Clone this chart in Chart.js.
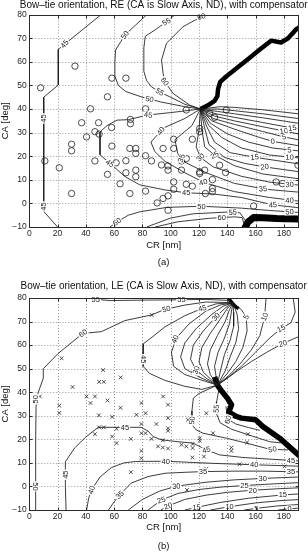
<!DOCTYPE html>
<html><head><meta charset="utf-8">
<script src="https://cdn.jsdelivr.net/npm/chart.js@4.4.1/dist/chart.umd.min.js"></script>
<style>
html,body{margin:0;padding:0;background:#fff;overflow:hidden;width:308px;height:552px}
.box{position:absolute;left:0;width:308px;height:276px}
</style></head><body>
<div class="box" style="top:0"><canvas id="ca"></canvas></div>
<div class="box" style="top:276px"><canvas id="cb"></canvas></div>
<script>
// ---------- shared axes ----------
const xTicks = [0,20,40,60,80,100,120,140,160,180];
const yTicks = [-10,0,10,20,30,40,50,60,70,80];
const titleA = 'Bow–tie orientation, RE (CA is Slow Axis, ND), with compensator';
const titleB = 'Bow–tie orientation, LE (CA is Slow Axis, ND), with compensator';

// ---------- chart (a): contour lines [CR, CA] ----------
const aL45left = [[50.7,80],[20.5,65.3],[20.5,50.2],[10.2,45],[10.2,-3.4],[20,-10]];
const aL50up = [[121,40],[110,41],[93,43],[80,45],[68,47.5],[63,50],[60.5,54],[60.5,60],[61,65],[67.6,71.4],[75,75.5],[83,80]];
const aL55up = [[121,40],[110,42],[100,45],[92,47.3],[86.4,49.4],[83,52],[81,56],[81,66],[82,70.8],[90,74],[97,77],[103,80]];
const aL60up = [[121,40],[113.4,41.7],[101.7,46.6],[95.8,51.6],[94.6,55.1],[93.5,60.8],[97,67.9],[108.7,74.9],[121.7,79.2],[125,80.3]];
const aL45mid = [[121,40],[100,38.5],[84,37.5],[70,35.5],[62,35.3],[55,33],[50,30.3],[50,20.6],[57,17],[67.6,11.4],[78,7.9],[96,5.7],[111,4.5],[130,4],[150,2.5],[172,-0.6],[190,-1.8]];
const aL40 = [[121,40],[110,36],[95,32],[86,26],[88.7,22],[96,17.8],[110,13],[123,9],[145,5],[170,2.5],[190,1]];
const aL35 = [[121,40],[115,33],[103,27],[105,21],[110,17.5],[125,13],[145,8.5],[167,6],[190,4.8]];
const aL30 = [[121,40],[120,31],[118,24],[121,19.5],[130,15.5],[150,11.5],[170,9],[190,7.8]];
const aL25 = [[121,40],[122,31.5],[124,24],[131,20.5],[145,16],[165,12.5],[190,10.5]];
const aL20 = [[121,40],[124,32],[127,25],[138,19.5],[152,17],[166,15.5],[190,13.5]];
const aL15 = [[121,40],[125.5,32.5],[131,26],[142,21.5],[160,19.5],[190,16.8]];
const aL10 = [[121,40],[127,33],[136,28],[150,23.5],[170,20.5],[190,19.3]];
const aL5 = [[121,40],[128,34],[140,29.5],[155,26],[172,23.5],[190,22.3]];
const aL0 = [[121,40],[129,35],[145,31.5],[160,28.5],[172,26.3],[190,24.5]];
const aL5b = [[121,40],[130,36],[145,33.5],[165,30.5],[180,28.2],[190,27]];
const aL10b = [[121,40],[131,37],[145,35],[165,32.5],[190,29.5]];
const aL15b = [[121,40],[132,38],[145,36.5],[165,34.3],[190,31.5]];
const aL20b = [[121,40],[133,39],[145,38],[165,36.3],[190,34]];
const aL25b = [[121,40],[134,40],[145,39.3],[165,38],[190,36]];
const aL30b = [[121,40],[135,41],[145,40.7],[165,39.7],[190,38]];
const aL50low = [[57,-10],[63,-7.5],[70,-5],[78,-3.6],[97,-1.7],[121.7,-1.2],[150,-2],[170,-3],[190,-3.8]];
const aL55low = [[83,-10],[100,-6.2],[115.8,-4.4],[139.3,-3.7],[149,-4],[152.5,-7]];
const aL60low = [[89,-10],[105,-7.8],[127.5,-6.3],[145,-5.7],[150.5,-6],[152,-9]];
const aBandUp = [[121,40],[126,41.5],[131,43.5],[133,45.5],[133.5,48.5],[135,51.5],[139,53.7],[147,57.5],[155,61.3],[163,65.2],[171,69],[178,68.2],[183,70],[189,74],[192,75]];
const aBandLow = [[152,-11],[154.5,-8],[158.5,-6],[165,-6.1],[175,-6.4],[191,-6.6]];
const aLines = [aL45left,aL50up,aL55up,aL60up,aL45mid,aL40,aL35,aL30,aL25,aL20,aL15,aL10,aL5,aL0,aL5b,aL10b,aL15b,aL20b,aL25b,aL30b,aL50low,aL55low,aL60low];

// chart (a): measured points (circles)
const aPoints = [[32.3,58.2],[8,49],[58.4,53.1],[68.3,53.1],[55.3,45.2],[43.3,40.1],[82.2,40.1],[37,34.2],[49,34.2],[71.5,35.6],[71.5,33.8],[58.2,32.2],[40.5,28.2],[46.4,30.4],[49.4,29.4],[111,39.6],[127.5,38.2],[131,36.5],[139.3,39.6],[120.5,31.8],[29.9,25.1],[29.9,22.3],[11,18],[21.2,15.1],[29.9,4.2],[46.4,18],[58.4,24.3],[61.4,17.2],[55.3,12.3],[64.2,8.3],[68.3,13],[68.3,18.1],[71.1,23.3],[75.3,23.3],[75.3,21.2],[75.3,14.1],[75.3,11.3],[71.1,4.2],[82.2,20.2],[86.4,18],[82.2,5.2],[90.4,0.2],[94.6,2.1],[98.1,3.2],[98.1,-2.9],[94.6,23.3],[98.1,15.9],[98.1,14.1],[93.5,16.3],[102.1,27.2],[102.1,23.3],[102.1,9.1],[102.1,6],[107.6,18],[107.6,14.1],[111,19],[111,8.1],[115.3,7.3],[115.3,27.2],[120.5,30.4],[120.5,13.4],[120.5,12.7],[124,14.1],[124.5,4.2],[129.5,10.1],[129.5,6.3],[129.5,5],[134.6,16.2],[138.8,13.1],[158.6,-1.1],[174.6,9.1],[178.9,8.4],[190,16.2]];

// chart (a): contour labels [CR, CA, text, angle]
const aLabels = [[25,67.6,'45',-50],[10.2,36,'45',-90],[10.2,-1.3,'45',-90],[67.6,71.4,'50',-55],[97,77,'55',-30],[121.7,79.2,'60',-20],[95.8,51.6,'60',55],[92.3,47.3,'55',30],[85,44.2,'50',12],[84,37.5,'45',5],[93,30.7,'40',-55],[57,17,'45',35],[111,4.5,'45',0],[62,-7.8,'60',-35],[121.7,-1.2,'50',0],[143.8,-3.8,'55',-3],[136,-6,'60',0],[172.2,-0.6,'45',-5],[184,1.3,'40',-3],[184,-3.6,'50',-3],[165.2,6.2,'35',-5],[184,8,'30',-3],[123,9,'40',-15],[107.6,19.2,'35',-70],[121,19.5,'30',-45],[131,20.5,'25',-30],[166.4,15.5,'20',-8],[159.3,19.6,'15',-8],[184,19.6,'10',-3],[184,22.7,'5',-4],[172.2,26.3,'0',-8],[180,28.2,'5',-8],[180,30.7,'10',-8],[186,32,'15',-8]];

// ---------- chart (b): contour lines ----------
const bL50up = [[4.5,-10],[4.5,20],[4.8,34],[5.5,38.5],[9.9,46],[9.9,50],[20.5,56.5],[38,65],[51,65.7],[67.5,70.4],[86.4,72.8],[96,75.2],[110,77],[125,78.3],[144,78]];
const bL55up = [[43,80.5],[50,79.3],[57,78.9],[80,79.1],[100,79.2],[125,79.4],[140,79],[144,78]];
const bL45up = [[144,78],[132,77.5],[122.4,75.6],[110,72.5],[96,67.8],[86,63],[80.5,60.5],[80.5,51],[85,48],[96,45],[110,42.5],[122,41.2],[133,43]];
const bL40up = [[144,78],[135,77],[125,74.5],[113,69],[104,63],[100.5,57],[102,51],[110,47.5],[120,45.5],[133,43]];
const bL35 = [[144,78],[137,76.5],[129,73],[118,67],[110,61],[107,55],[110,50],[120,46.5],[133,43]];
const bL30 = [[144,78],[139,76],[132,72],[123,66],[116,60],[114,54],[118,49.4],[125,46],[133,43]];
const bL25 = [[144,78],[140,75.5],[135,71],[128,65],[122,59],[120,53],[123,48.5],[133,43]];
const bL20 = [[144,78],[141.5,75],[138.5,70],[133,64],[128,58],[126,52],[128,47.5],[133,43]];
const bL15 = [[144,78],[143,74.5],[141.5,69],[138,63],[133.5,57],[131,51],[132,47],[133,43]];
const bL10 = [[144,78],[144.5,74],[144.5,68],[142,62],[138,56],[135.5,50],[134,46],[133,43]];
const bL5 = [[144,78],[147,73],[148,67],[146,61],[142,55],[138.5,49],[133,43]];
const bL5r = [[144,78],[150,75],[153.4,72],[154,66],[151,59],[146,53],[140,48],[133,43]];
const bL10r = [[167.5,80.5],[166.4,72],[163,64],[157,58],[149,52],[141,47],[133,43]];
const bL15r = [[186.5,80.5],[188,74],[185,69.5],[178.2,67.1],[170,63],[160,57],[150,51],[141,46.5],[133,43]];
const bL20r = [[190.5,63.6],[179.3,60.7],[168,57],[157,53],[147,49],[139,45.5],[133,43]];
const bL45low = [[26,-10],[25.5,0],[25.5,10.5],[32,16.3],[40,21],[48.7,25.1],[79,25.1],[84,23.5],[87.5,21.2],[93.4,19.8],[105,19],[115.8,18.4],[125.2,15.5],[134.6,13.4],[151,12.3],[170,11.6],[190,10.9]];
const bL40low = [[40.5,-10],[42,-5],[44,-1.5],[50,4],[58,8],[67,10],[75,10.6],[96,10.7],[130,9.8],[159,9.2],[190,8.6]];
const bL35low = [[56,-10],[60,-6.5],[64,-3.6],[72,1.4],[84,4.2],[96,5.6],[110,6],[122.8,6.3],[145,6.5],[165,6.5],[190,6.2]];
const bL30low = [[70,-10],[80,-5.5],[92,-2],[104,0.1],[125,1.8],[145,2.8],[165,3.4],[190,4]];
const bL25low = [[84,-10],[93.4,-5.8],[105,-3],[120,-1.3],[135,-0.3],[152.2,0.4],[170,1],[190,1.6]];
const bL20low = [[93,-10],[98.1,-8.3],[110,-5.5],[125,-3.7],[140,-2.5],[158,-1.6],[175,-1],[190,-0.6]];
const bL15low = [[110,-10],[118.2,-8.9],[135,-6.8],[155,-5],[179.3,-3.6],[190,-3.2]];
const bL10low = [[128,-10],[141.6,-8.6],[160,-7],[178,-6],[190,-5.6]];
const bL5low = [[152,-10],[160.5,-9.3],[175,-8.3],[190,-7.7]];
const bL0low = [[176,-10],[184,-9.5],[190,-9.2]];
const bL50mid = [[133,43],[120,39.5],[116,37.5],[115,32],[115,26.2],[118,24],[122.8,22.6],[139.3,20.5],[153.4,18.4],[170,15.8],[183,15.5]];
const bL55mid = [[134,41],[132.5,36],[132.3,31],[135,27],[143,24.3],[157,21.5],[170,19],[178,18.5]];
const bL60mid = [[139,34],[140.5,28.5],[146,26.5],[155,25],[163,23.8]];
const bBand = [[131,46.5],[133,43],[136,40.5],[140,37.5],[143,34.7],[141,31.5],[146,29.8],[150,29],[160,28.3],[165,25.5],[177,20.5],[192,12.5]];
const bBandTop = [[140,81],[142.5,78.5],[145.5,76.5],[148,75.5]];
const bLines = [bL50up,bL55up,bL45up,bL40up,bL35,bL30,bL25,bL20,bL15,bL10,bL5,bL5r,bL10r,bL15r,bL20r,bL45low,bL40low,bL35low,bL30low,bL25low,bL20low,bL15low,bL10low,bL5low,bL0low,bL50mid,bL55mid,bL60mid];

// chart (b): measured points (crosses)
const bPoints = [[22.8,54.4],[86.6,72.8],[52.2,49.4],[49.4,44.4],[52.7,44.4],[64.6,46.3],[30.6,42.2],[7.5,38.2],[40.5,38.2],[46.4,38.2],[94.6,38.2],[115.8,48.3],[21.2,34.3],[21.2,31.2],[43.3,35.4],[55.3,36.5],[49.2,30.2],[58.6,29.5],[64.5,33.4],[79.3,35.4],[75.8,30.4],[82.2,31.1],[49.4,25.1],[52.7,25.1],[46.4,22.2],[61.7,24.5],[58.6,21.2],[61.7,18.4],[79.3,26.5],[79.3,22.6],[82.2,22.6],[71.8,20.2],[86.4,20.2],[79.3,15.1],[79.3,12],[71.8,6.1],[91,17],[94.4,19.6],[94.4,16.5],[98.1,34.7],[98.1,29],[98.1,24.7],[98.1,23.6],[112.2,28.3],[125.2,31.1],[98.1,16.1],[107.6,17.7],[111,17],[115.5,18],[115.5,16.3],[120.5,20.5],[120.5,19.4],[129.9,22.6],[142.9,16.5],[142.9,15.1],[123.5,12.7],[115.3,12.3],[148.7,9.4],[154.6,22.2],[154,18.7],[180.5,8.5],[125.2,7.5],[111.5,-1.5],[89.9,26.5]];

// chart (b): contour labels
const bLabels = [[47,79.5,'55',0],[107.6,79.2,'55',0],[97,75.3,'50',-15],[122.4,75.6,'45',-15],[38,65,'60',-35],[80.5,54,'45',90],[103,62.5,'40',-65],[153.4,72,'5',-60],[166.4,72,'10',-70],[178.2,67.1,'15',-25],[179.3,60.7,'20',-15],[4.7,37,'50',-90],[4.5,0,'50',90],[25.5,5,'45',-90],[44,-1.5,'40',-70],[64,-3.6,'35',-45],[67.6,25.1,'45',0],[96.5,10.7,'40',0],[125.2,15.5,'45',-15],[159,9.2,'40',0],[185,11,'45',0],[185,6.3,'35',0],[122.8,6.3,'35',0],[104,0.1,'30',-5],[165,3.4,'30',0],[93.4,-5.8,'25',-20],[152.2,0.4,'25',0],[98.1,-8.3,'20',-20],[158,-1.6,'20',0],[118.2,-8.9,'15',-5],[179.3,-3.6,'15',0],[141.6,-8.6,'10',0],[160.5,-9.3,'5',0],[184,-9.5,'0',0],[115,28,'50',-85],[132.3,33,'55',-85],[140.5,28.3,'60',-70],[172,15.8,'50',-10],[118,49.4,'30',-70],[132,72,'30',-50]];

// ---------- drawing ----------
const FONT = '"Liberation Sans", Arial, Helvetica, sans-serif';
const toXY = arr => arr.map(p => ({x: p[0], y: p[1]}));
const fmt = v => (v < 0 ? '\u2212' + Math.abs(v) : String(v));

const deco = {
  id: 'deco',
  beforeDatasetsDraw(chart) {
    const {ctx, chartArea: a, scales: {x, y}} = chart;
    ctx.save();
    ctx.strokeStyle = '#8c8c8c'; ctx.lineWidth = 0.9; ctx.setLineDash([1, 2]);
    xTicks.forEach(v => { const p = Math.round(x.getPixelForValue(v)) + 0.5;
      if (p > a.left + 1 && p < a.right - 1) { ctx.beginPath(); ctx.moveTo(p, a.top); ctx.lineTo(p, a.bottom); ctx.stroke(); } });
    yTicks.forEach(v => { const p = Math.round(y.getPixelForValue(v)) + 0.5;
      if (p > a.top + 1 && p < a.bottom - 1) { ctx.beginPath(); ctx.moveTo(a.left, p); ctx.lineTo(a.right, p); ctx.stroke(); } });
    ctx.restore();
  },
  afterDatasetsDraw(chart, args, opts) {
    const {ctx, chartArea: a, scales: {x, y}} = chart;
    ctx.save();
    ctx.font = '7.5px ' + FONT; ctx.textAlign = 'center'; ctx.textBaseline = 'middle';
    opts.labels.forEach(([vx, vy, t, ang]) => {
      const px = x.getPixelForValue(vx), py = y.getPixelForValue(vy);
      ctx.save(); ctx.translate(px, py); ctx.rotate(ang * Math.PI / 180);
      const w = ctx.measureText(t).width;
      ctx.fillStyle = '#fff'; ctx.fillRect(-w / 2 - 1, -3.3, w + 2, 6.6);
      ctx.fillStyle = '#1a1a1a'; ctx.fillText(t, 0, 0.4);
      ctx.restore();
    });
    ctx.strokeStyle = '#2a2a2a'; ctx.lineWidth = 1; ctx.setLineDash([]);
    const L = Math.round(a.left) + 0.5, R = Math.round(a.right) + 0.5, T = Math.round(a.top) + 0.5, B = Math.round(a.bottom) + 0.5;
    ctx.strokeRect(L, T, R - L, B - T);
    ctx.beginPath();
    xTicks.forEach(v => { const p = Math.round(x.getPixelForValue(v)) + 0.5;
      ctx.moveTo(p, B); ctx.lineTo(p, B - 3); ctx.moveTo(p, T); ctx.lineTo(p, T + 3); });
    yTicks.forEach(v => { const p = Math.round(y.getPixelForValue(v)) + 0.5;
      ctx.moveTo(L, p); ctx.lineTo(L + 3, p); ctx.moveTo(R, p); ctx.lineTo(R - 3, p); });
    ctx.stroke();
    ctx.font = '10px ' + FONT; ctx.fillStyle = '#111'; ctx.textAlign = 'center'; ctx.textBaseline = 'middle';
    ctx.fillText(opts.title, (a.left + a.right) / 2, opts.titleY);
    ctx.restore();
  }
};

function makeChart(id, cfg) {
  const datasets = [];
  cfg.lines.forEach(l => datasets.push({type: 'scatter', data: toXY(l), showLine: true, pointRadius: 0,
    borderColor: '#1a1a1a', borderWidth: 0.85, tension: 0, fill: false}));
  cfg.bands.forEach(([l, w]) => datasets.push({type: 'scatter', data: toXY(l), showLine: true, pointRadius: 0,
    borderColor: '#000', borderWidth: w, tension: 0, fill: false, borderJoinStyle: 'round'}));
  datasets.push({type: 'scatter', data: toXY(cfg.points), showLine: false, pointStyle: cfg.marker,
    pointRadius: cfg.marker === 'circle' ? 3.2 : 2.6, borderColor: '#222', borderWidth: 0.8,
    backgroundColor: 'rgba(0,0,0,0)'});
  return new Chart(document.getElementById(id), {
    type: 'scatter',
    data: {datasets},
    plugins: [deco],
    options: {
      responsive: true, maintainAspectRatio: false, animation: false, events: [],
      layout: {padding: {top: cfg.padTop, right: 10, left: 0, bottom: 0}},
      plugins: {legend: {display: false}, tooltip: {enabled: false},
        deco: {labels: cfg.labels, title: cfg.title, titleY: cfg.titleY}},
      scales: {
        x: {type: 'linear', min: 0, max: 190,
          afterBuildTicks: s => { s.ticks = xTicks.map(v => ({value: v})); },
          afterFit: s => { s.height = cfg.xH; },
          grid: {display: false, drawTicks: false}, border: {display: false},
          ticks: {padding: 2, color: '#262626', font: {family: FONT, size: 8.5}, maxRotation: 0, autoSkip: false, callback: v => fmt(v)},
          title: {display: true, text: ['CR [nm]', cfg.caption], color: '#111',
            font: {family: FONT, size: 9.5, lineHeight: cfg.capLH}, padding: {top: 0, bottom: cfg.capPad}}},
        y: {type: 'linear', min: -10, max: 80,
          afterBuildTicks: s => { s.ticks = yTicks.map(v => ({value: v})); },
          afterFit: s => { s.width = 29.3; },
          grid: {display: false, drawTicks: false}, border: {display: false},
          ticks: {padding: 2.6, color: '#262626', font: {family: FONT, size: 8.5}, autoSkip: false, callback: v => fmt(v)},
          title: {display: true, text: 'CA [deg]', color: '#111', font: {family: FONT, size: 9.5}, padding: {top: 0, bottom: 0}}}
      }
    }
  });
}

makeChart('ca', {lines: aLines, bands: [[aBandUp, 4.5], [aBandLow, 7]], points: aPoints, marker: 'circle',
  labels: aLabels, title: titleA, titleY: 5.4, padTop: 14.7, xH: 49, caption: '(a)', capLH: 17 / 9.5, capPad: 5});
makeChart('cb', {lines: bLines, bands: [[bBand, 5.5], [bBandTop, 3.5]], points: bPoints, marker: 'crossRot',
  labels: bLabels, title: titleB, titleY: 10, padTop: 22, xH: 42, caption: '(b)', capLH: 18.5 / 9.5, capPad: -3.25});
</script></body></html>
